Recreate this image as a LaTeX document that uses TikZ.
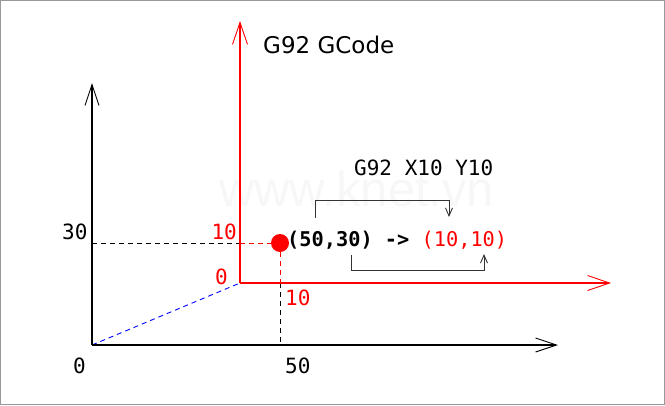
\documentclass[tikz,border=0pt]{standalone}
\usepackage{fontspec}
\setmainfont{DejaVu Sans}
\setmonofont{DejaVu Sans Mono}
\newfontfamily\wmfont{Liberation Sans}
\usetikzlibrary{arrows.meta}
\definecolor{brk}{HTML}{333333}
\tikzset{
  axblack/.style={draw=black,line width=1.8pt,-{Straight Barb[length=21pt,width=14pt,line width=0.9pt]}},
  axred/.style={draw=red,line width=1.4pt,-{Straight Barb[length=22pt,width=15pt,line width=0.9pt]}},
  dsh/.style={dash pattern=on 5pt off 4pt,line width=0.9pt},
  brace/.style={draw=brk,line width=0.9pt,-{Straight Barb[length=8pt,width=7pt]}},
  lbl/.style={inner sep=0pt,font=\fontsize{21}{25}\selectfont\ttfamily},
}
\begin{document}
\begin{tikzpicture}[x=1pt,y=-1pt]
\useasboundingbox (0,0) rectangle (665,405);
\draw[gray!80,line width=1.2pt] (0.6,0.6) rectangle (664.4,404.4);
\node[inner sep=0pt,anchor=base west,text=gray!6,font=\fontsize{49}{56}\selectfont\wmfont] (wm) at (219,206) {www.knet.vn};
% coordinates
\coordinate (O) at (92,345);
\coordinate (Ytop) at (92,83);
\coordinate (Xend) at (558,345);
\coordinate (O2) at (240,283);
\coordinate (Y2top) at (240,21);
\coordinate (X2end) at (611,283);
\coordinate (Ly) at (92,243);
\coordinate (Lyr) at (240,243);
\coordinate (Px) at (280,283);
\coordinate (Pb) at (280,345);
% dashed helpers
\draw[dsh,blue] (O) -- (O2);
\draw[dsh,black] (Ly) -- (Lyr);
\draw[dsh,red] (Lyr) -- (280,243);
\draw[dsh,red] (280,243) -- (Px);
\draw[dsh,black] (Px) -- (Pb);
% axes
\draw[axblack] (O) -- (Ytop);
\draw[axblack] (O) -- (Xend);
\draw[axred] (O2) -- (Y2top);
\draw[axred] (O2) -- (X2end);
% point
\node[circle,fill=red,minimum size=18pt,inner sep=0pt] (P) at (280,243) {};
% labels
\node[inner sep=0pt,anchor=base west,font=\fontsize{23}{28}\selectfont] (title) at (263,53) {G92 GCode};
\node[lbl,anchor=base west] (cmd) at (354,175) {G92 X10 Y10};
\node[lbl,anchor=base west,font=\fontsize{20.3}{24}\selectfont\ttfamily] (conv) at (287,246) {\textbf{(50,30) ->} \textcolor{red}{(10,10)}};
\node[lbl,anchor=base west] (l30) at (62,239) {30};
\node[lbl,anchor=base east,text=red] (l10r) at (237,239) {10};
\node[lbl,anchor=base west,text=red] (l0r) at (215,284) {0};
\node[lbl,anchor=base west,text=red] (l10x) at (285,305) {10};
\node[lbl,anchor=base west] (l0) at (73,373) {0};
\node[lbl,anchor=base west] (l50) at (285,373) {50};
% brackets
\coordinate (b1s) at (315,218);
\coordinate (b1e) at (449,217);
\coordinate (b2s) at (351,255);
\coordinate (b2e) at (484,254);
\draw[brace] (b1s) -- (315,200) -- (449,200) -- (b1e);
\draw[brace] (b2s) -- (351,270) -- (484,270) -- (b2e);
\end{tikzpicture}
\end{document}
